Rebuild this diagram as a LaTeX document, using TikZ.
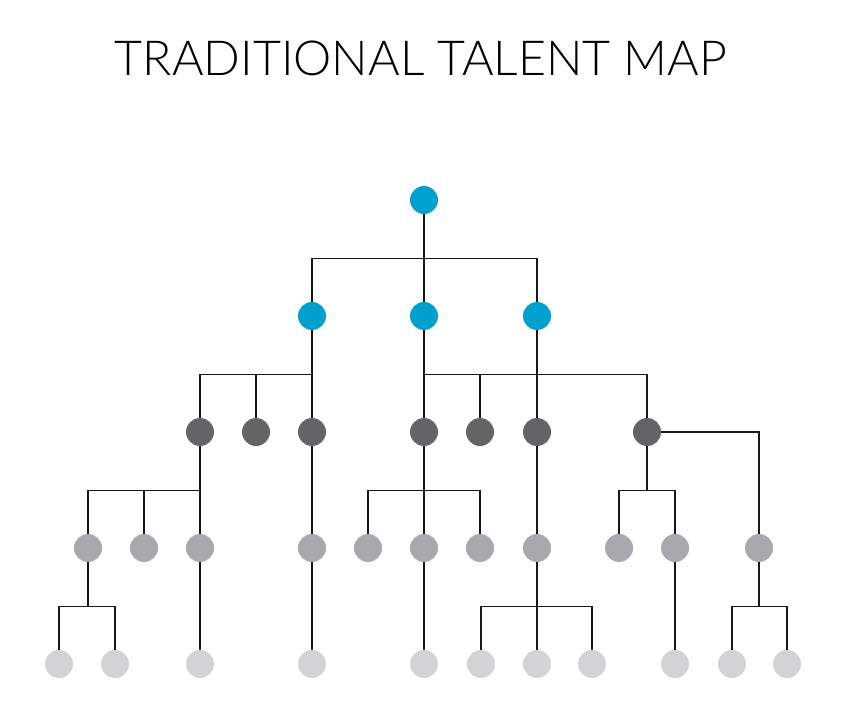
\documentclass[tikz,border=0pt]{standalone}
\usepackage{fontspec}
\setmainfont{Lato Light}
\definecolor{tblue}{RGB}{0,160,206}
\definecolor{tdark}{RGB}{99,100,102}
\definecolor{tmid}{RGB}{167,169,172}
\definecolor{tlight}{RGB}{209,211,212}
\tikzset{
  dot/.style={circle, minimum size=28pt, inner sep=0pt, draw=none},
  lv0/.style={dot, fill=tblue},
  lv1/.style={dot, fill=tblue},
  lv2/.style={dot, fill=tdark},
  lv3/.style={dot, fill=tmid},
  lv4/.style={dot, fill=tlight},
  link/.style={draw=black!90, line width=1.15pt},
}
\begin{document}
\begin{tikzpicture}[x=1pt, y=-1pt]
\useasboundingbox (0,0) rectangle (847,714);
\node[anchor=base, font=\fontsize{48.3}{50}\selectfont] (title) at (421,76) {TRADITIONAL TALENT MAP};
% level 0
\node[lv0] (r) at (424,200) {};
% level 1
\node[lv1] (a1) at (312,316) {};
\node[lv1] (a2) at (424,316) {};
\node[lv1] (a3) at (537,316) {};
% level 2
\node[lv2] (b1) at (200,432) {};
\node[lv2] (b2) at (256,432) {};
\node[lv2] (b3) at (312,432) {};
\node[lv2] (b4) at (424,432) {};
\node[lv2] (b5) at (480,432) {};
\node[lv2] (b6) at (537,432) {};
\node[lv2] (b7) at (647,432) {};
% level 3
\node[lv3] (c1) at (88,548) {};
\node[lv3] (c2) at (144,548) {};
\node[lv3] (c3) at (200,548) {};
\node[lv3] (c4) at (312,548) {};
\node[lv3] (c5) at (368,548) {};
\node[lv3] (c6) at (424,548) {};
\node[lv3] (c7) at (480,548) {};
\node[lv3] (c8) at (537,548) {};
\node[lv3] (c9) at (619,548) {};
\node[lv3] (c10) at (675,548) {};
\node[lv3] (c11) at (759,548) {};
% level 4
\node[lv4] (d1) at (59,664) {};
\node[lv4] (d2) at (115,664) {};
\node[lv4] (d3) at (200,664) {};
\node[lv4] (d4) at (312,664) {};
\node[lv4] (d5) at (424,664) {};
\node[lv4] (d6) at (481,664) {};
\node[lv4] (d7) at (537,664) {};
\node[lv4] (d8) at (592,664) {};
\node[lv4] (d9) at (675,664) {};
\node[lv4] (d10) at (732,664) {};
\node[lv4] (d11) at (787,664) {};
% connectors
\foreach \p/\c in {r/a1, r/a2, r/a3,
                   a1/b1, a1/b2, a1/b3,
                   a2/b4, a2/b5, a2/b7, a3/b6,
                   b1/c1, b1/c2, b1/c3, b3/c4,
                   b4/c5, b4/c6, b4/c7, b6/c8,
                   b7/c9, b7/c10,
                   c1/d1, c1/d2, c3/d3, c4/d4, c6/d5,
                   c8/d6, c8/d7, c8/d8, c10/d9,
                   c11/d10, c11/d11}
  \draw[link] (\p.south) -- ++(0,44) -| (\c.north);
\draw[link] (b7.east) -| (c11.north);
\end{tikzpicture}
\end{document}
